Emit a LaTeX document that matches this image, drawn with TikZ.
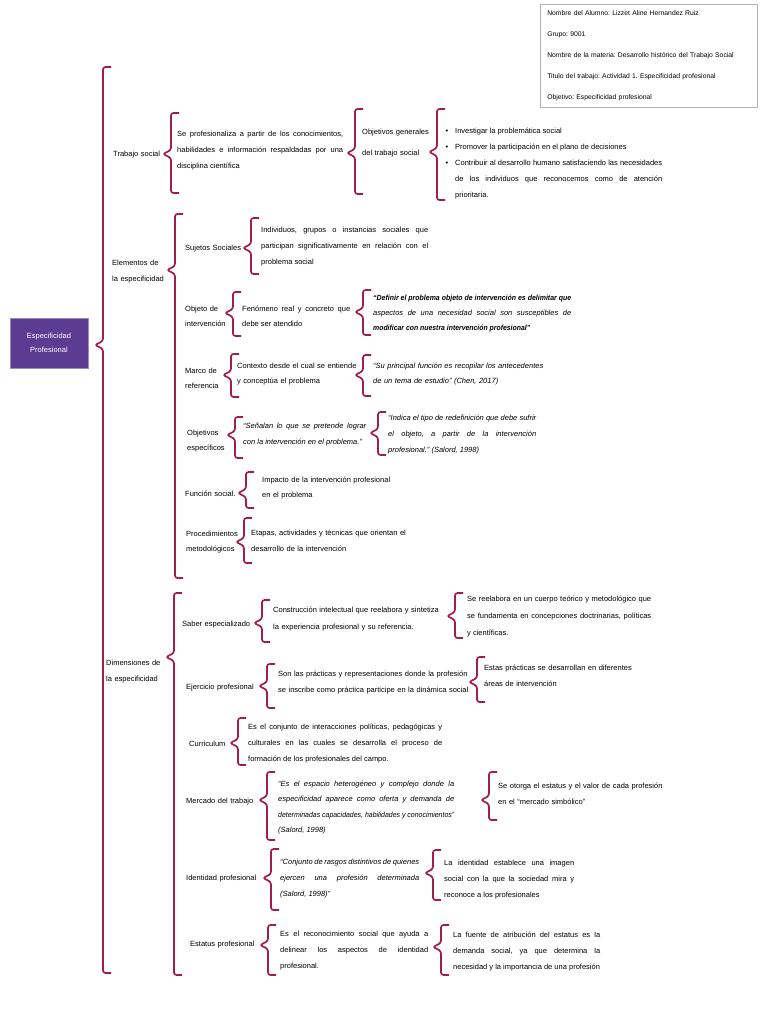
\documentclass[tikz,border=0pt]{standalone}
\usepackage{graphicx}
\usepackage{fontspec}
\setmainfont{Liberation Sans}
\usetikzlibrary{positioning}
\frenchspacing

\definecolor{bordo}{RGB}{163,30,70}
\definecolor{lila}{RGB}{92,60,146}

% llave: x, arriba, punta, abajo
\newcommand{\llave}[4]{%
  \draw[llv] (#1+8,#2) -- (#1,#2) -- (#1,#3-4) -- (#1-8,#3) -- (#1,#3+4) -- (#1,#4) -- (#1+8,#4);}
\newcommand{\punto}{\leavevmode\llap{\textbullet\hspace{7pt}}}

\begin{document}
\begin{tikzpicture}[x=1pt,y=-1pt,
  llv/.style={draw=bordo,line width=1.7pt,rounded corners=2.5pt},
  txt/.style={inner sep=0pt,anchor=base west,align=justify,
              font=\fontsize{7.5}{16}\selectfont},
  lbl/.style={inner sep=0pt,anchor=base west,align=left,text width=250pt,
              font=\fontsize{7.5}{16}\selectfont},
  cita/.style={txt,font=\fontsize{7.5}{16}\selectfont\itshape},
  mainbox/.style={rectangle,fill=lila,draw=lila!60,text=white,
                  minimum width=78pt,minimum height=50pt,align=center,
                  font=\fontsize{7.5}{14}\selectfont},
  infobox/.style={draw=gray!60,line width=0.6pt,inner xsep=7pt,inner ysep=0pt,
                  anchor=north west,minimum width=217pt,minimum height=103pt,
                  text width=203pt,align=left,font=\fontsize{6.8}{21}\selectfont},
]
\useasboundingbox (0,0) rectangle (768,1024);

% Datos
\node[infobox] (datos) at (540,4) {Nombre del Alumno: Lizzet Aline Hernandez Ruiz\\
  Grupo: 9001\\Nombre de la materia: Desarrollo histórico del Trabajo Social\\
  Titulo del trabajo: Actividad 1. Especificidad profesional\\
  Objetivo: Especificidad profesional};

% Raiz
\node[mainbox] (esp) at (49,343) {Especificidad\\Profesional};
\llave{103}{67}{345}{973}

\node[lbl] (ts) at (113,157) {Trabajo social};
\node[lbl] (elem) at (112,265) {Elementos de\\la especificidad};
\node[lbl] (dim) at (106,665) {Dimensiones de\\la especificidad};

% Trabajo social
\llave{171}{113}{154}{193}
\node[txt,text width=166pt] (ts-def) at (177,137) {Se profesionaliza a partir de los conocimientos,
  \linebreak habilidades e información respaldadas por una \linebreak disciplina científica};
\llave{355}{109}{153}{194}
\node[lbl,font=\fontsize{7.5}{21}\selectfont] (ts-obj) at (362,135) {Objetivos generales\\del trabajo social};
\llave{437}{109}{152}{200}
\node[txt,text width=207pt] (ts-lista) at (455,134) {\punto Investigar la problemática social\par
  \punto Promover la participación en el plano de decisiones\par
  \punto Contribuir al desarrollo humano satisfaciendo las necesidades \linebreak
  de los individuos que reconocemos como de atención \linebreak prioritaria.};

% Elementos de la especificidad
\llave{175}{214}{270}{578}
\node[lbl] (suj) at (185,251) {Sujetos Sociales};
\llave{251}{218}{248}{274}
\node[txt,text width=167pt] (suj-def) at (261,233) {Individuos, grupos o instancias sociales que
  \linebreak participan significativamente en relación con el \linebreak problema social};

\node[lbl,font=\fontsize{7.5}{15}\selectfont] (oi) at (185,311) {Objeto de\\intervención};
\llave{233}{292}{313}{336}
\node[txt,text width=108pt,font=\fontsize{7.5}{15}\selectfont] (oi-def) at (242,311) {Fenómeno real y concreto que
  \linebreak debe ser atendido};
\llave{363}{290}{312}{335}
\node[cita,text width=198pt,font=\fontsize{7.5}{15}\selectfont\itshape] (oi-cita) at (373,300)
  {\resizebox{198pt}{\height}{\bfseries “Definir el problema objeto de intervención es delimitar que} \linebreak
  aspectos de una necesidad social son susceptibles de \linebreak
  \resizebox{157pt}{\height}{\bfseries modificar con nuestra intervención profesional”}};

\node[lbl,font=\fontsize{7.5}{15}\selectfont] (mr) at (185,373) {Marco de\\referencia};
\llave{231}{354}{375}{397}
\node[lbl,font=\fontsize{7.5}{15}\selectfont] (mr-def) at (237,368) {Contexto desde el cual se entiende\\y conceptúa el problema};
\llave{363}{355}{375}{396}
\node[lbl,font=\fontsize{7.5}{15}\selectfont\itshape] (mr-cita) at (373,368)
  {“Su principal función es recopilar los antecedentes\\de un tema de estudio” (Chen, 2017)};

\node[lbl,font=\fontsize{7.5}{15}\selectfont] (oe) at (187,435) {Objetivos\\específicos};
\llave{235}{417}{435}{458}
\node[cita,text width=123pt] (oe-def) at (243,428) {“Señalan lo que se pretende lograr \linebreak
  con la intervención en el problema.”};
\llave{378}{412}{433}{455}
\node[cita,text width=148pt] (oe-cita) at (388,420) {“Indica el tipo de redefinición que debe sufrir
  \linebreak el objeto, a partir de la intervención \linebreak profesional.” (Salord, 1998)};

\node[lbl] (fs) at (185,496) {Función social.};
\llave{246}{472}{493}{508}
\node[lbl,font=\fontsize{7.5}{15}\selectfont] (fs-def) at (262,482) {Impacto de la intervención profesional\\en el problema};

\node[lbl,font=\fontsize{7.5}{15}\selectfont] (pm) at (186,536) {Procedimientos\\metodológicos};
\llave{244}{518}{542}{563}
\node[lbl] (pm-def) at (251,535) {Etapas, actividades y técnicas que orientan el\\desarrollo de la intervención};

% Dimensiones de la especificidad
\llave{174}{593}{657}{975}
\node[lbl] (se) at (182,626) {Saber especializado};
\llave{262}{600}{623}{642}
\node[lbl,font=\fontsize{7.5}{17}\selectfont] (se-def) at (273,612) {Construcción intelectual que reelabora y sintetiza\\la experiencia profesional y su referencia.};
\llave{455}{593}{616}{638}
\node[txt,text width=184pt,font=\fontsize{7.5}{17}\selectfont] (se-ext) at (467,601) {Se reelabora en un cuerpo teórico y metodológico que
  \linebreak se fundamenta en concepciones doctrinarias, políticas \linebreak y científicas.};

\node[lbl] (ep) at (186,689) {Ejercicio profesional};
\llave{267}{664}{686}{708}
\node[lbl] (ep-def) at (278,676) {Son las prácticas y representaciones donde la profesión\\se inscribe como práctica participe en la dinámica social};
\llave{477}{657}{682}{702}
\node[lbl] (ep-ext) at (484,670) {Estas prácticas se desarrollan en diferentes\\áreas de intervención};

\node[lbl] (cu) at (189,746) {Curriculum};
\llave{238}{718}{743}{765}
\node[txt,text width=194pt] (cu-def) at (248,729) {Es el conjunto de interacciones políticas, pedagógicas y
  \linebreak culturales en las cuales se desarrolla el proceso de \linebreak formación de los profesionales del campo.};

\node[lbl] (mt) at (186,803) {Mercado del trabajo};
\llave{267}{772}{800}{840}
\node[cita,text width=176pt,font=\fontsize{7.5}{15.5}\selectfont\itshape] (mt-def) at (278,786)
  {“Es el espacio heterogéneo y complejo donde la \linebreak especificidad aparece como oferta y demanda de
  \linebreak \resizebox{176pt}{\height}{determinadas capacidades, habilidades y conocimientos”} \linebreak (Salord, 1998)};
\llave{489}{772}{800}{820}
\node[lbl] (mt-ext) at (498,788) {Se otorga el estatus y el valor de cada profesión\\en el “mercado simbólico”};

\node[lbl] (ip) at (186,880) {Identidad profesional};
\llave{271}{849}{878}{910}
\node[cita,text width=139pt] (ip-def) at (280,864) {“Conjunto de rasgos distintivos de quienes
  \linebreak ejercen una profesión determinada \linebreak (Salord, 1998)”};
\llave{433}{850}{873}{900}
\node[txt,text width=130pt] (ip-ext) at (444,865) {La identidad establece una imagen
  \linebreak social con la que la sociedad mira y \linebreak reconoce a los profesionales};

\node[lbl] (sp) at (190,946) {Estatus profesional};
\llave{268}{925}{945}{975}
\node[txt,text width=148pt] (sp-def) at (280,936) {Es el reconocimiento social que ayuda a
  \linebreak delinear los aspectos de identidad \linebreak profesional.};
\llave{441}{925}{947}{975}
\node[txt,text width=147pt] (sp-ext) at (453,937) {La fuente de atribución del estatus es la
  \linebreak demanda social, ya que determina la \linebreak necesidad y la importancia de una profesión};
\end{tikzpicture}
\end{document}
